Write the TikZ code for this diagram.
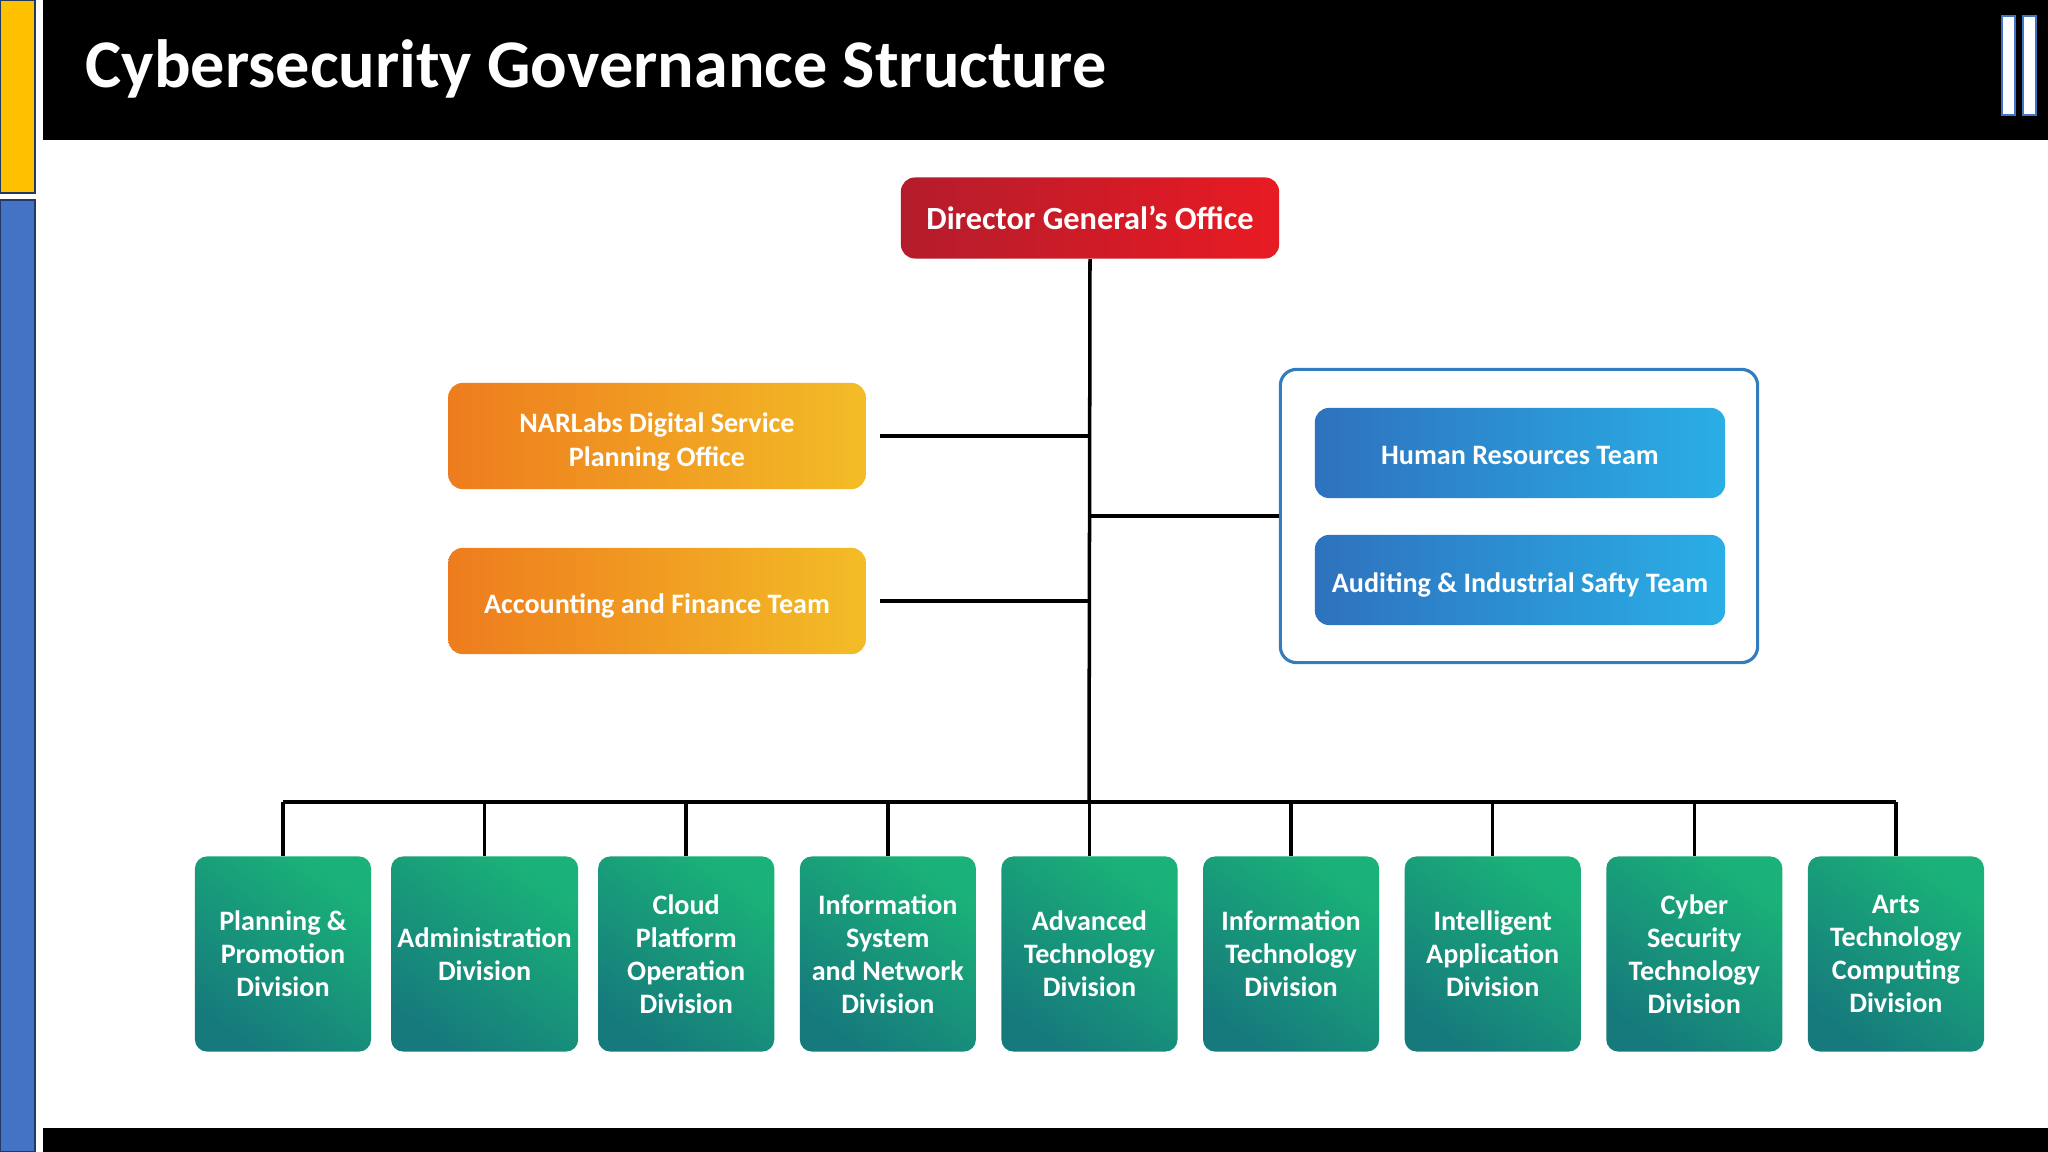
\documentclass[tikz,border=0pt]{standalone}
\usepackage{fontspec}
\setmainfont{Carlito}
\usepackage{xcolor}
\usepackage{tikz}
\usetikzlibrary{arrows.meta, positioning, shapes.geometric}

\definecolor{hdrYellow}{RGB}{255,192,0}
\definecolor{hdrBlue}{RGB}{68,114,196}
\definecolor{dgLeft}{RGB}{180,28,44}
\definecolor{dgRight}{RGB}{232,27,35}
\definecolor{orLeft}{RGB}{238,124,30}
\definecolor{orRight}{RGB}{243,188,38}
\definecolor{bluLeft}{RGB}{46,114,190}
\definecolor{bluRight}{RGB}{42,174,230}
\definecolor{grnTop}{RGB}{26,178,120}
\definecolor{grnBot}{RGB}{22,122,124}
\definecolor{grpLine}{RGB}{50,125,190}

\begin{document}
\begin{tikzpicture}[x=0.01cm, y=-0.01cm, node distance=2.015cm,
    box/.style={rectangle, rounded corners=0.14cm, text=white, align=center, inner sep=2pt, font=\fontsize{8}{9.6}\selectfont\bfseries},
    orangebox/.style={box, left color=orLeft, right color=orRight, minimum width=4.17cm, minimum height=1.06cm},
    teambox/.style={box, left color=bluLeft, right color=bluRight, minimum width=4.10cm, minimum height=0.90cm},
    divbox/.style={box, rounded corners=0.12cm, bottom color=grnBot, top color=grnTop, shading angle=-35, minimum width=1.76cm, minimum height=1.95cm, inner sep=1pt, font=\fontsize{8}{9.4}\selectfont\bfseries},
    link/.style={line width=1pt}]

    % Page frame
    \useasboundingbox (0,0) rectangle (2048,1152);
    \fill[white] (0,0) rectangle (2048,1152);
    \fill[black] (43,0) rectangle (2048,140);
    \fill[black] (43,1128) rectangle (2048,1152);
    \draw[fill=hdrYellow, draw=hdrBlue!50!black, line width=0.4pt] (0,0) rectangle (35,193);
    \draw[fill=hdrBlue, draw=hdrBlue!50!black, line width=0.4pt] (0,200) rectangle (35,1152);
    \draw[fill=white, draw=hdrBlue, line width=0.8pt] (2002,16) rectangle (2015,115);
    \draw[fill=white, draw=hdrBlue, line width=0.8pt] (2023,16) rectangle (2036,115);

    % Title
    \node[anchor=base west, text=white, inner sep=0pt, font=\fontsize{19.4}{23}\selectfont\bfseries] (title) at (85,88) {Cybersecurity Governance Structure};

    % Top office
    \node[box, left color=dgLeft, right color=dgRight, minimum width=3.78cm, minimum height=0.81cm, font=\fontsize{9.2}{11}\selectfont\bfseries] (dg) at (1090,218) {Director General’s Office};

    % Staff units, left
    \node[orangebox] (narlabs) at (657,436) {\raisebox{0pt}[9pt][0pt]{NARLabs Digital Service}\\Planning Office};
    \node[orangebox] (acct) at (657,601) {\rule{0pt}{8.3pt}Accounting and Finance Team};

    % Staff units, right
    \node[rectangle, draw=grpLine, line width=0.9pt, fill=white, rounded corners=0.16cm, minimum width=4.77cm, minimum height=2.93cm] (group) at (1519,516) {};
    \node[teambox] (hr) at (1520,453) {\rule{0pt}{6.8pt}Human Resources Team};
    \node[teambox] (audit) at (1520,580) {\rule{0pt}{8.3pt}Auditing \& Industrial Safty Team};

    % Divisions
    \coordinate (bus) at (1089,802);
    \node[divbox] (d1) at (283,954) {Planning \&\\Promotion\\Division};
    \node[divbox, minimum width=1.87cm, right of=d1] (d2) {Administration\\Division};
    \node[divbox, right of=d2] (d3) {Cloud\\Platform\\Operation\\Division};
    \node[divbox, right of=d3] (d4) {Information\\System\\and Network\\Division};
    \node[divbox, right of=d4] (d5) {Advanced\\Technology\\Division};
    \node[divbox, right of=d5] (d6) {Information\\Technology\\Division};
    \node[divbox, right of=d6] (d7) {Intelligent\\Application\\Division};
    \node[divbox, right of=d7] (d8) {Cyber\\Security\\Technology\\Division};
    \node[divbox, right of=d8] (d9) {Arts\\Technology\\Computing\\Division};

    % Connectors
    \draw[link] (dg.south) -- (bus);
    \draw[link, shorten <=0.14cm] (narlabs.east) -- (narlabs.east -| bus);
    \draw[link, shorten <=0.14cm] (acct.east) -- (acct.east -| bus);
    \draw[link] (group.west) -- (group.west -| bus);
    \draw[link] (d1.north |- bus) -- (d9.north |- bus);
    \foreach \i in {1,...,9}
        \draw[link] (d\i.north |- bus) -- (d\i.north);
\end{tikzpicture}
\end{document}
